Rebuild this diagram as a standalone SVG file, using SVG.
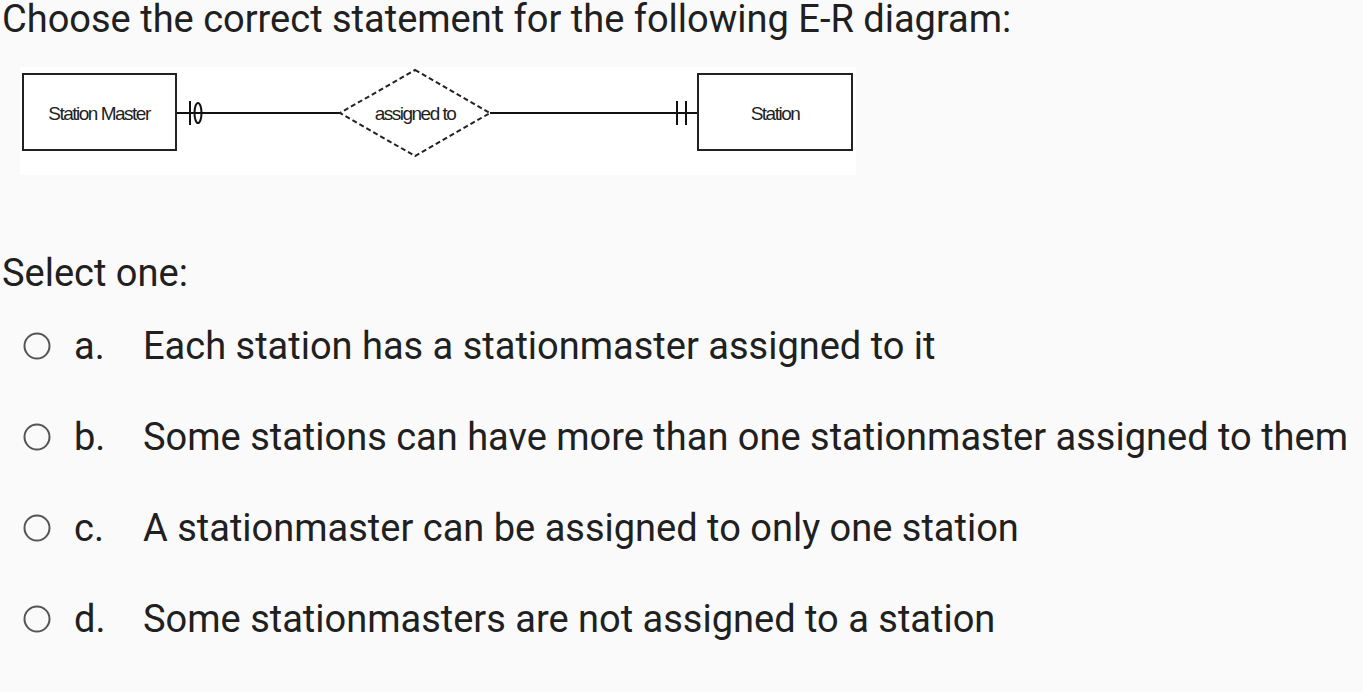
<svg xmlns="http://www.w3.org/2000/svg" width="1363" height="692" viewBox="0 0 1363 692">
<style>
.q{font-family:Roboto,"Liberation Sans",sans-serif;font-size:38px;fill:#202020}
.s{font-family:"Liberation Sans",Arial,sans-serif;font-size:19px;fill:#222;letter-spacing:-1.5px}
.e{fill:#fff;stroke:#222;stroke-width:2}
.r{fill:none;stroke:#555;stroke-width:2}
</style>
<rect width="1363" height="692" fill="#fafafa"/>
<text class="q" x="2" y="32">Choose the correct statement for the following E-R diagram:</text>
<rect x="20" y="67" width="836" height="108" fill="#fff"/>
<g id="connectors" stroke="#111" stroke-width="2" fill="none">
<line x1="176" y1="113" x2="340" y2="113"/>
<line x1="490" y1="113" x2="698" y2="113"/>
<line x1="190" y1="101" x2="190" y2="125"/>
<ellipse cx="198" cy="113" rx="3.5" ry="10"/>
<line x1="677" y1="101" x2="677" y2="125"/>
<line x1="686" y1="101" x2="686" y2="125"/>
</g>
<g id="station-master"><rect class="e" x="23" y="74" width="153" height="76"/><text class="s" x="99" y="120" text-anchor="middle">Station Master</text></g>
<g id="assigned-to"><polygon points="415,70 490,113 415,156 340,113" fill="#fff" stroke="#222" stroke-width="2" stroke-dasharray="5,3"/><text class="s" x="415" y="120" text-anchor="middle">assigned to</text></g>
<g id="station"><rect class="e" x="698" y="74" width="154" height="76"/><text class="s" x="775" y="120" text-anchor="middle">Station</text></g>
<text class="q" x="2" y="286">Select one:</text>
<g class="q">
<circle class="r" cx="37" cy="346" r="12.5"/><text x="74" y="359">a.</text><text x="143" y="359">Each station has a stationmaster assigned to it</text>
<circle class="r" cx="37" cy="437" r="12.5"/><text x="74" y="450">b.</text><text x="143" y="450">Some stations can have more than one stationmaster assigned to them</text>
<circle class="r" cx="37" cy="528" r="12.5"/><text x="74" y="541">c.</text><text x="143" y="541">A stationmaster can be assigned to only one station</text>
<circle class="r" cx="37" cy="619" r="12.5"/><text x="74" y="632">d.</text><text x="143" y="632">Some stationmasters are not assigned to a station</text>
</g>
</svg>
